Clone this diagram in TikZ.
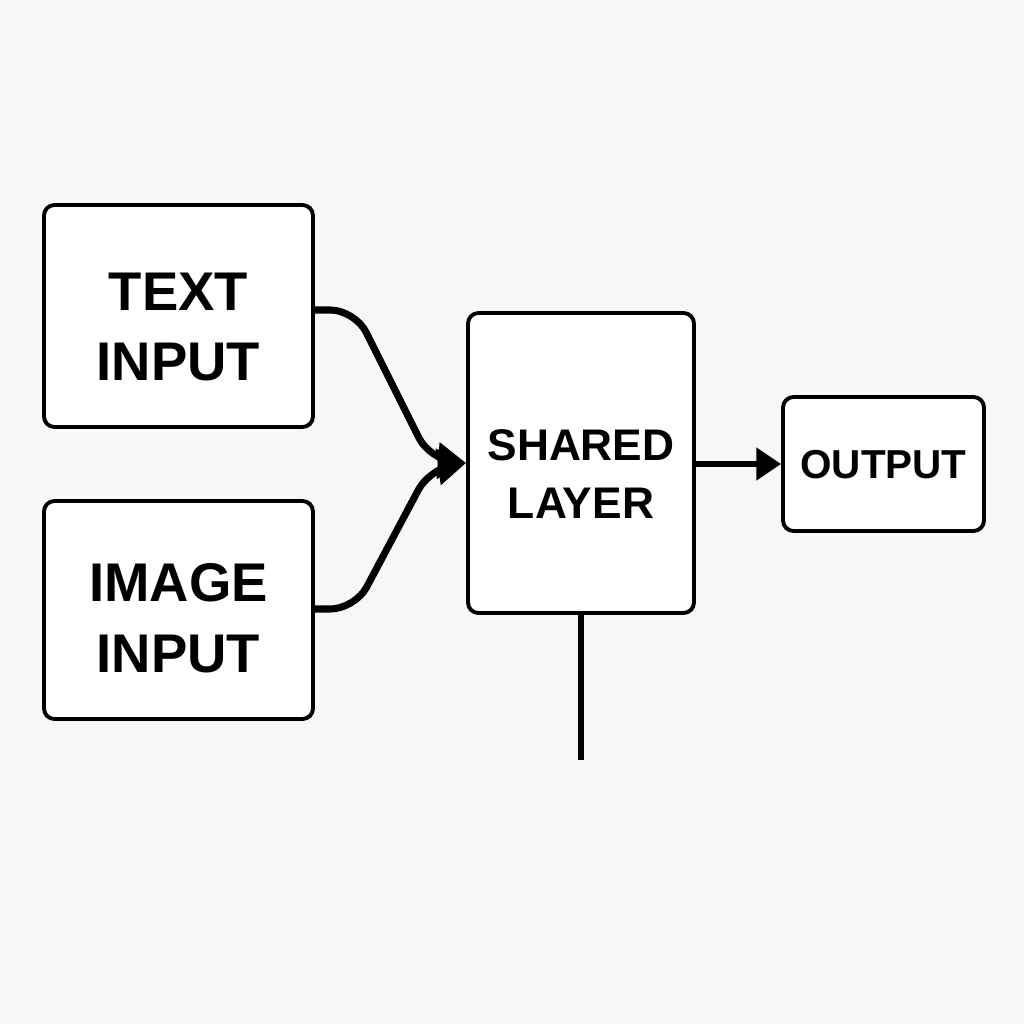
\documentclass[tikz,border=0pt]{standalone}
\usepackage{fontspec}
\setmainfont{Liberation Sans}
\usetikzlibrary{arrows.meta}
\definecolor{bgcol}{HTML}{F7F7F7}
\newcommand{\boxtext}[2]{\raisebox{#1}[\height][\depth]{\begin{tabular}{@{}c@{}}#2\end{tabular}}}
\begin{document}
\begin{tikzpicture}[
    box/.style={draw, line width=1.1pt, rounded corners=3pt, fill=white,
      align=center, inner sep=0pt, font=\bfseries},
    link/.style={line width=2pt, rounded corners=7pt}
  ]
      \fill[bgcol] (0,0) rectangle (10.24,-10.24);
      \useasboundingbox (0,0) rectangle (10.24,-10.24);
      \draw
        (1.785,-3.16) node[box, minimum width=2.69cm, minimum height=2.22cm,
          font=\bfseries\fontsize{15.5}{20}\selectfont] (text){\boxtext{-4.3pt}{TEXT\\INPUT}}
        (1.785,-6.10) node[box, minimum width=2.69cm, minimum height=2.18cm,
          font=\bfseries\fontsize{15.5}{20}\selectfont] (image){\boxtext{-3.7pt}{IMAGE\\INPUT}}
        (5.81,-4.63) node[box, minimum width=2.26cm, minimum height=3.00cm,
          font=\bfseries\fontsize{12.6}{16.5}\selectfont] (shared){\boxtext{-4.3pt}{SHARED\\LAYER}}
        (8.835,-4.64) node[box, minimum width=2.01cm, minimum height=1.34cm,
          font=\bfseries\fontsize{11.5}{14}\selectfont] (output){\boxtext{-1.4pt}{OUTPUT}};
      \coordinate (tail) at (5.81,-7.60);
      \begin{scope}[link]
        \draw[-{Triangle[length=8pt,width=10pt]}]
          (text.east |- 0,-3.10) -- (3.55,-3.10) -- (4.30,-4.60) -- (shared.west);
        \draw[-{Triangle[length=8pt,width=10pt]}]
          (image.east |- 0,-6.09) -- (3.55,-6.09) -- (4.30,-4.68) -- (shared.west);
        \draw[line width=1.5pt, -{Triangle[length=7pt,width=9pt]}] (shared.east |- output) -- (output.west);
        \draw[line width=1.5pt] (shared.south) -- (tail);
      \end{scope}
    \end{tikzpicture}
\end{document}
